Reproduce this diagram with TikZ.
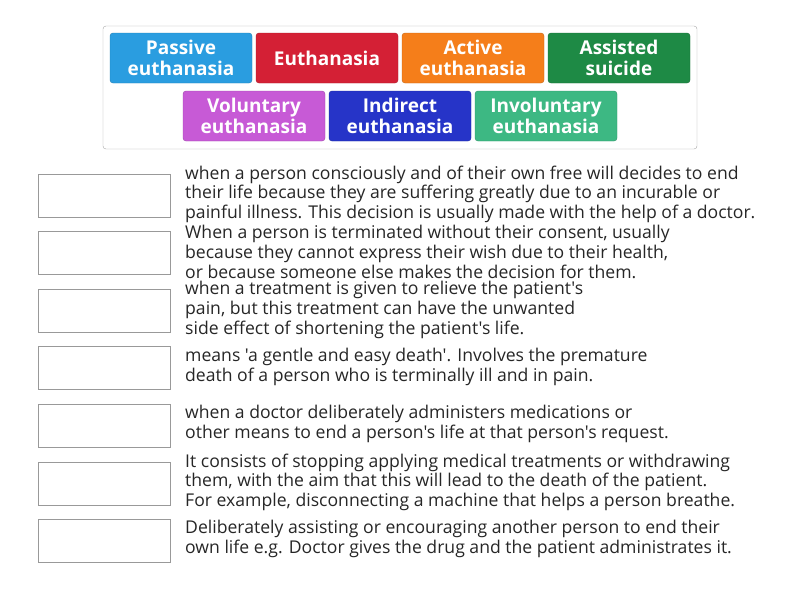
\documentclass[tikz,border=0pt]{standalone}
\usepackage{fontspec}
\setmainfont{Open Sans}[Ligatures=TeXOff]
\begin{document}
\begin{tikzpicture}[x=1pt,y=-1pt,
tile/.style={draw=#1!80!black,fill=#1,rounded corners=3pt,minimum width=142pt,minimum height=50pt,text=white,font=\fontsize{19}{21.5}\selectfont\bfseries,align=center,inner sep=0pt},
ans/.style={draw=gray!80,minimum width=132pt,minimum height=43pt,inner sep=0pt},
desc/.style={anchor=west,align=left,font=\fontsize{17.6}{19.6}\selectfont,text=black!85,inner sep=0pt}]
\useasboundingbox (0,0) rectangle (800,600);
\definecolor{cA}{HTML}{2A9DE0}\definecolor{cB}{HTML}{D42035}\definecolor{cC}{HTML}{F57E1A}
\definecolor{cD}{HTML}{1E8A45}\definecolor{cE}{HTML}{C75AD6}\definecolor{cF}{HTML}{2634C8}\definecolor{cG}{HTML}{3DB883}
\node[draw=gray!70,rounded corners=3pt,minimum width=594pt,minimum height=123pt] (frame) at (400,87.5) {};
\node[tile=cA] (t1) at (181,58) {Passive\\euthanasia};
\node[tile=cB] (t2) at (327,58) {Euthanasia};
\node[tile=cC] (t3) at (473,58) {Active\\euthanasia};
\node[tile=cD] (t4) at (619,58) {Assisted\\suicide};
\node[tile=cE] (t5) at (254,116) {Voluntary\\euthanasia};
\node[tile=cF] (t6) at (400,116) {Indirect\\euthanasia};
\node[tile=cG] (t7) at (546,116) {Involuntary\\euthanasia};
\node[ans] (a1) at (104,195.5) {};
\node[ans] (a2) at (104,253) {};
\node[ans] (a3) at (104,310.5) {};
\node[ans] (a4) at (104,368) {};
\node[ans] (a5) at (104,425.5) {};
\node[ans] (a6) at (104,483.5) {};
\node[ans] (a7) at (104,540.5) {};
\node[desc] (d1) at (185,194) {when a person consciously and of their own free will decides to end\\their life because they are suffering greatly due to an incurable or\\painful illness. This decision is usually made with the help of a doctor.};
\node[desc] (d2) at (185,252) {When a person is terminated without their consent, usually\\because they cannot express their wish due to their health,\\or because someone else makes the decision for them.};
\node[desc] (d3) at (185,310) {when a treatment is given to relieve the patient's\\pain, but this treatment can have the unwanted\\side effect of shortening the patient's life.};
\node[desc] (d4) at (185,367) {means 'a gentle and easy death'. Involves the premature\\death of a person who is terminally ill and in pain.};
\node[desc] (d5) at (185,424) {when a doctor deliberately administers medications or\\other means to end a person's life at that person's request.};
\node[desc] (d6) at (185,482) {It consists of stopping applying medical treatments or withdrawing\\them, with the aim that this will lead to the death of the patient.\\For example, disconnecting a machine that helps a person breathe.};
\node[desc] (d7) at (185,539) {Deliberately assisting or encouraging another person to end their\\own life e.g. Doctor gives the drug and the patient administrates it.};
\end{tikzpicture}
\end{document}
